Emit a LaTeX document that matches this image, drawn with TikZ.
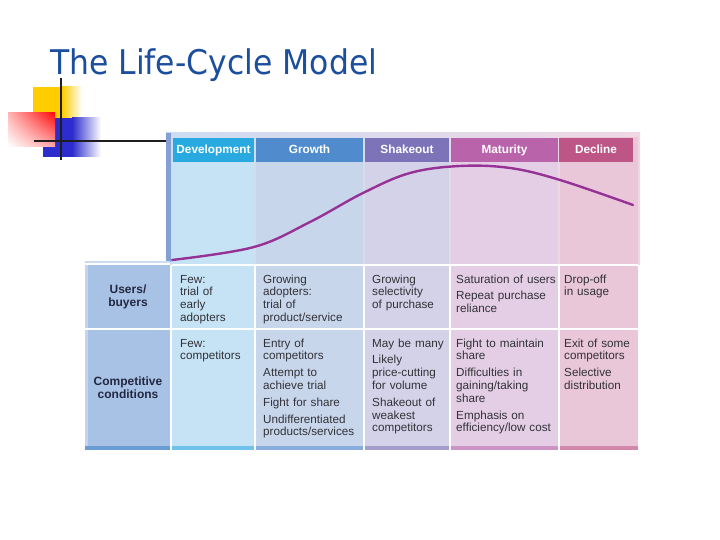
\documentclass[tikz,border=0pt]{standalone}
\usepackage{fontspec}
\usetikzlibrary{shadings}
\setmainfont{Liberation Sans}
\newfontfamily\titlefont{DejaVu Sans}
\definecolor{titleblue}{RGB}{28,78,158}
\definecolor{hdev}{RGB}{40,170,225}
\definecolor{hgro}{RGB}{80,140,205}
\definecolor{hsha}{RGB}{125,115,185}
\definecolor{hmat}{RGB}{185,100,170}
\definecolor{hdec}{RGB}{190,85,135}
\definecolor{bdev}{RGB}{198,226,245}
\definecolor{bgro}{RGB}{200,214,236}
\definecolor{bsha}{RGB}{212,210,232}
\definecolor{bmat}{RGB}{228,206,230}
\definecolor{bdec}{RGB}{233,198,216}
\definecolor{labc}{RGB}{168,194,230}
\definecolor{labtop}{RGB}{205,220,242}
\definecolor{strip}{RGB}{130,160,212}
\definecolor{curvec}{RGB}{150,50,150}
\definecolor{txt}{RGB}{50,50,55}
\definecolor{labtxt}{RGB}{35,40,65}
\definecolor{decoyel}{RGB}{255,204,0}
\definecolor{decored}{RGB}{255,10,10}
\definecolor{decoblue}{RGB}{45,45,205}
\definecolor{decoline}{RGB}{30,30,30}
\begin{document}
\begin{tikzpicture}[x=1pt,y=1pt,
  hdr/.style={fill=#1, text=white, font=\fontsize{11.8}{13}\selectfont\bfseries,
    inner sep=0, minimum height=24, text height=8.6, text depth=2.4, anchor=center},
  cell/.style={anchor=north west, inner sep=0, text width=130, align=left,
    font=\fontsize{11.7}{12.8}\selectfont, text=txt, execute at begin node=\strut},
  rowlab/.style={anchor=center, inner sep=0, align=center,
    font=\fontsize{12}{13}\selectfont\bfseries, text=labtxt},
  gap/.style={draw=white, line width=2pt},
  decoln/.style={draw=decoline, line width=2pt}
]
\useasboundingbox (0,0) rectangle (720,540);
\fill[white] (0,0) rectangle (720,540);

% title
\node[anchor=base west, inner sep=0, text=titleblue,
  font=\fontsize{34}{40}\selectfont\titlefont] (title) at (50,465)
  {\scalebox{0.925}[1]{The Life-Cycle Model}};

% decoration
\fill[decoyel] (33,420) rectangle (62,453);
\shade[left color=decoyel, right color=white] (62,420) rectangle (82,453);
\fill[decoblue] (43,383) rectangle (72,422);
\shade[left color=decoblue, right color=white] (72,383) rectangle (101,422);
\shade[upper right=decored, upper left=decored!30!white,
  lower right=decored!35!white, lower left=white] (8,393) rectangle (55,427);
\coordinate (vtop) at (61,462);
\coordinate (vbot) at (61,380);
\coordinate (hl) at (34,399);
\coordinate (hr) at (168,399);
\draw[decoln] (vtop) -- (vbot);
\draw[decoln] (hl) -- (hr);

% panel background (graph area frame)
\shade[left color=labtop, right color=bdec!70!white] (166,275) rectangle (640,407);
\fill[strip] (166,278) rectangle (171,407);

% label column
\fill[labc] (85,93) rectangle (170,278);
\fill[labtop] (85,275) rectangle (170,279);
\fill[labtop!70!labc] (85,93) rectangle (88,278);

% body columns
\fill[bdev] (172,93) rectangle (254,378);
\fill[bgro] (256,93) rectangle (363,378);
\fill[bsha] (365,93) rectangle (449,378);
\fill[bmat] (451,93) rectangle (558,378);
\fill[bdec] (560,93) rectangle (638,403);
% bottom shading stripes
\fill[hdev!55!bdev] (172,90) rectangle (254,94);
\fill[hgro!55!bgro] (256,90) rectangle (363,94);
\fill[hsha!55!bsha] (365,90) rectangle (449,94);
\fill[hmat!55!bmat] (451,90) rectangle (558,94);
\fill[hdec!55!bdec] (560,90) rectangle (638,94);
\fill[hgro!70!labc] (85,90) rectangle (170,94);

% row separators
\draw[gap] (85,276) -- (170,276);
\draw[gap] (172,275) -- (638,275);
\draw[gap] (85,211) -- (638,211);

% headers
\node[hdr=hdev, minimum width=81] (hDev) at (213.5,390) {Development};
\node[hdr=hgro, minimum width=107] (hGro) at (309.5,390) {Growth};
\node[hdr=hsha, minimum width=84] (hSha) at (407,390) {Shakeout};
\node[hdr=hmat, minimum width=107] (hMat) at (504.5,390) {Maturity};
\node[hdr=hdec, minimum width=74] (hDec) at (596,390) {Decline};

% curve
\draw[curvec, line width=2.4pt, line cap=round] plot[smooth, tension=0.6] coordinates
  {(172,280) (254,293) (310,318) (363,347) (410,367) (460,374) (510,372) (560,360) (633,335)};

% row labels
\node[rowlab] (lUsers) at (128,243) {Users/\\buyers};
\node[rowlab] (lComp) at (128,152) {Competitive\\conditions};

% row 1
\node[cell] (u1) at (180,266) {Few:\\trial of\\early\\adopters};
\node[cell] (u2) at (263,266) {Growing\\adopters:\\trial of\\product/service};
\node[cell] (u3) at (372,266) {Growing\\selectivity\\of purchase};
\node[cell] (u4) at (456,266) {Saturation of users\\[4pt]Repeat purchase\\reliance};
\node[cell] (u5) at (564,266) {Drop-off\\in usage};

% row 2
\node[cell] (c1) at (180,202) {Few:\\competitors};
\node[cell] (c2) at (263,202) {Entry of\\competitors\\[4pt]Attempt to\\achieve trial\\[4pt]Fight for share\\[4pt]Undifferentiated\\products/services};
\node[cell] (c3) at (372,202) {May be many\\[4pt]Likely\\price-cutting\\for volume\\[4pt]Shakeout of\\weakest\\competitors};
\node[cell] (c4) at (456,202) {Fight to maintain\\share\\[4pt]Difficulties in\\gaining/taking\\share\\[4pt]Emphasis on\\efficiency/low cost};
\node[cell] (c5) at (564,202) {Exit of some\\competitors\\[4pt]Selective\\distribution};
\end{tikzpicture}
\end{document}
